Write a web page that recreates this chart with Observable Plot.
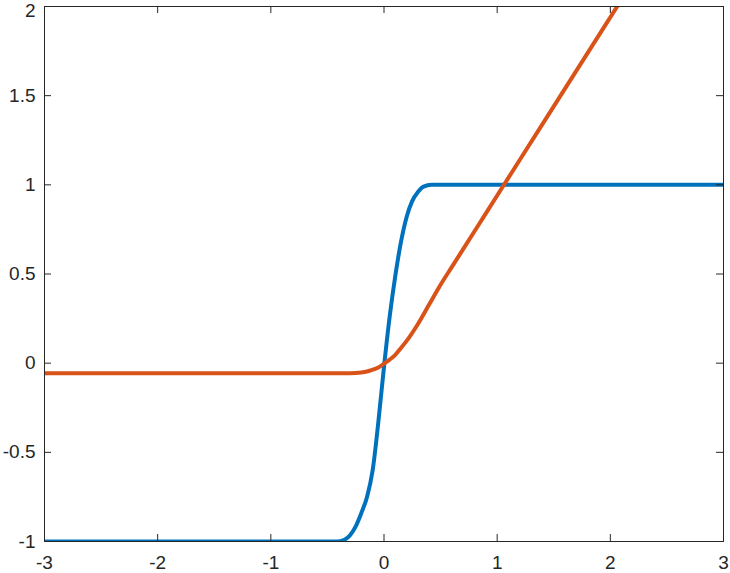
<!DOCTYPE html>
<html>
<head>
<meta charset="utf-8">
<script src="https://cdn.jsdelivr.net/npm/d3@7"></script>
<script src="https://cdn.jsdelivr.net/npm/@observablehq/plot@0.6"></script>
<style>
  html, body { margin: 0; padding: 0; background: #fff; }
  #chart svg { display: block; }
</style>
</head>
<body>
<div id="chart"></div>
<script>
// Series values
const blueX = [-3, -0.42, -0.35, -0.3, -0.25, -0.2, -0.15, -0.1, -0.05, 0, 0.05, 0.1, 0.15, 0.2, 0.25, 0.3, 0.35, 0.42, 3];
const blueY = [-1, -1, -0.99, -0.965, -0.915, -0.84, -0.75, -0.6, -0.33, -0.02, 0.26, 0.49, 0.68, 0.82, 0.91, 0.96, 0.99, 1, 1];

const orangeX = [-3, -0.3, -0.2, -0.12, -0.05, 0, 0.05, 0.1, 0.15, 0.2, 0.3, 0.4, 0.5, 0.6, 0.8, 1.0, 1.5, 2.0, 3.0];
const orangeY = [-0.056, -0.056, -0.052, -0.041, -0.024, -0.003, 0.02, 0.047, 0.085, 0.125, 0.22, 0.33, 0.44, 0.54, 0.74, 0.94, 1.44, 1.94, 2.94];

const xTicks = [-3, -2, -1, 0, 1, 2, 3];
const yTicks = [-1, -0.5, 0, 0.5, 1, 1.5, 2];

const blue = blueX.map((x, i) => ({x, y: blueY[i]}));
const orange = orangeX.map((x, i) => ({x, y: orangeY[i]}));

const W = 730, H = 573;
const mL = 44, mR = 7, mT = 6, mB = 32;
const plotW = W - mL - mR, plotH = H - mT - mB;
const tick = 7;
const ink = "#262626";
const fmt = d => String(d);
const yMax = d3.max(yTicks);

const chart = Plot.plot({
  width: W,
  height: H,
  marginLeft: mL,
  marginRight: mR,
  marginTop: mT,
  marginBottom: mB,
  style: {fontFamily: "'Liberation Sans', Arial, sans-serif", fontSize: "19px", color: ink, background: "#fff"},
  x: {domain: [-3, 3]},
  y: {domain: [-1, 2]},
  marks: [
    Plot.line(blue, {x: "x", y: "y", stroke: "#0072BD", strokeWidth: 4, curve: "monotone-x", clip: true}),
    Plot.line(orange, {x: "x", y: "y", stroke: "#D95319", strokeWidth: 4, curve: "monotone-x", clip: true}),
    Plot.frame({stroke: ink, strokeWidth: 1}),
    // inward ticks on all four sides
    Plot.ruleX(xTicks, {x: d => d, stroke: ink, insetTop: plotH - tick}),
    Plot.ruleX(xTicks, {x: d => d, stroke: ink, insetBottom: plotH - tick}),
    Plot.ruleY(yTicks, {y: d => d, stroke: ink, insetRight: plotW - tick}),
    Plot.ruleY(yTicks, {y: d => d, stroke: ink, insetLeft: plotW - tick}),
    Plot.axisX(xTicks, {anchor: "bottom", tickSize: 0, tickPadding: 14, tickFormat: fmt, label: null, fill: ink}),
    Plot.axisY(yTicks.filter(d => d < yMax), {anchor: "left", tickSize: 0, tickPadding: 9, tickFormat: fmt, label: null, fill: ink}),
    Plot.axisY(yTicks.filter(d => d === yMax), {anchor: "left", tickSize: 0, tickPadding: 9, tickFormat: fmt, label: null, fill: ink, dy: 4})
  ]
});
document.getElementById("chart").appendChild(chart);
</script>
</body>
</html>
